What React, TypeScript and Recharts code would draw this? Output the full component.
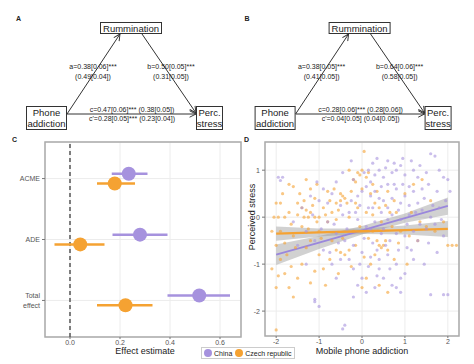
import React from "react"
import {
  ScatterChart,
  ComposedChart,
  Scatter,
  Area,
  Line,
  XAxis,
  YAxis,
  CartesianGrid,
  ErrorBar,
  ReferenceLine,
  ReferenceArea,
} from "recharts"

// colours
const PURPLE = "#a692de"
const ORANGE = "#f5a232"
const FONT = "'Liberation Sans', Arial, sans-serif"

// ---- panel C: mediation estimates ----
const catNames = ["ACME", "ADE", "Total\neffect"]
const catPos = [3, 2, 1]
const chinaEst = [0.235, 0.28, 0.517]
const chinaLo = [0.167, 0.17, 0.39]
const chinaHi = [0.31, 0.39, 0.64]
const czechEst = [0.179, 0.041, 0.222]
const czechLo = [0.108, -0.062, 0.108]
const czechHi = [0.26, 0.138, 0.33]
const effectTicks = [0, 0.2, 0.4, 0.6]

// ---- panel D: scatter + fits ----
const chinaPoints: number[][] = [
  [0.6, 1.2], [0.75, 1.15], [0.8, 1.0], [0.7, 0.95], [0.9, 1.1], [1.0, 0.9], [1.2, 1.0], [1.3, 0.85],
  [1.5, 0.95], [1.6, 1.35], [1.7, 1.3], [1.8, 1.0], [1.9, 0.85], [2.0, 0.8], [1.55, 0.7], [1.4, 0.6],
  [1.2, 0.55], [1.0, 0.45], [0.9, 0.3], [1.1, 0.25], [1.3, 0.3], [0.8, 0.6], [0.6, 0.7], [0.5, 0.85],
  [0.4, 1.0], [0.3, 0.9], [0.2, 0.75], [0.1, 0.65], [0.0, 0.55], [-0.1, 0.45], [0.2, 0.45], [0.4, 0.4],
  [0.6, 0.2], [0.7, 0.05], [0.9, -0.05], [1.1, 0.05], [1.4, 0.15], [1.6, 0.0], [1.8, 0.2], [1.7, -0.15],
  [1.5, -0.25], [1.2, -0.3], [1.0, -0.4], [0.8, -0.35], [0.5, -0.25], [0.3, -0.1], [0.1, -0.2], [-0.1, -0.05],
  [-0.3, 0.1], [-0.5, 0.25], [-0.7, 0.5], [-0.9, 0.6], [-1.0, 0.35], [-1.2, 0.45], [-0.8, -0.1], [-0.6, -0.35],
  [-0.4, -0.5], [-0.2, -0.6], [0.0, -0.75], [0.2, -0.85], [0.4, -0.9], [0.6, -0.8], [0.8, -1.0], [1.0, -1.2],
  [1.2, -0.9], [0.5, -1.3], [0.3, -1.5], [0.0, -1.3], [-0.2, -1.1], [-0.5, -0.9], [-0.7, -1.0], [-0.9, -0.7],
  [-1.1, -0.5], [-1.3, -0.3], [-1.5, -0.6], [-1.1, -1.8], [-1.0, -1.9], [-1.1, -1.75], [-0.4, -2.3], [-0.45, -2.38],
  [0.8, -1.5], [0.9, -1.6], [1.6, -1.65], [1.9, -1.65], [2.0, -1.65], [-1.95, 0.85], [-1.85, 0.85], [-1.9, 0.78],
  [0.1, -1.6], [-0.2, -1.7], [0.4, -1.1], [0.65, -0.5], [1.3, -0.5], [1.9, -0.4], [2.05, 0.55], [0.15, 1.0],
  [0.05, 0.95], [-0.2, 0.8], [-0.6, 0.75], [-0.8, 0.3], [0.45, 0.1], [0.25, 0.2], [-0.35, -0.25], [1.15, -0.7],
  [0.95, 0.7], [1.75, 0.55], [-1.4, 0.2], [-1.6, -0.1], [-1.3, -1.0], [0.35, 1.25], [0.55, -0.6], [1.45, -1.0],
  [-0.05, -1.0], [0.3, 0.55], [0.5, 0.35], [0.7, 0.4], [0.85, 0.15], [1.05, -0.15], [1.25, 0.1], [1.45, 0.4],
  [1.65, 0.25], [1.85, -0.05], [1.95, 0.35], [0.15, 0.2], [-0.15, 0.1], [-0.25, 0.35], [-0.45, 0.05], [-0.65, -0.15],
  [0.05, -0.45], [0.25, -0.55], [0.45, -0.35], [0.65, -1.1], [0.85, -0.7], [1.05, -0.65], [1.35, -0.15], [1.55, -0.55],
  [1.75, -0.75], [0.35, -1.25], [0.15, -1.05], [-0.1, -1.45], [-0.3, -0.9], [-0.55, -0.55], [-0.75, -0.75], [-0.95, -0.25],
  [-1.15, 0.05], [-1.05, 0.75], [-0.45, 0.95], [-0.25, 1.2], [0.25, 1.15], [0.55, 1.05], [0.95, 1.25], [1.15, 1.2],
  [1.35, 1.1], [0.45, 0.65], [0.75, 0.7], [1.1, 0.65], [0.2, -0.25], [0.6, -0.05], [-0.05, 0.25], [0.35, -0.7],
  [0.9, -1.3], [0.7, -1.45], [-0.6, -1.3],
]
const czechPoints: number[][] = [
  [-2.0, -2.4], [-2.0, 0.3], [-1.9, 0.3], [-1.95, 0.0], [-1.8, 0.0], [-1.7, 0.1], [-2.1, -0.3], [-2.0, -0.6],
  [-1.9, -0.9], [-2.1, -1.1], [-1.8, -1.2], [-1.7, -1.5], [-1.6, -1.7], [-2.0, -1.5], [-1.5, -1.3], [-1.4, -1.0],
  [-1.5, 0.3], [-1.4, 0.2], [-1.3, 0.15], [-1.2, 0.1], [-1.1, 0.0], [-1.25, 0.0], [-1.35, 0.0], [-1.0, 0.0],
  [-1.2, 0.6], [-1.6, 0.65], [-1.7, 0.7], [-1.3, 0.8], [-1.1, 0.4], [-0.9, 0.2], [-0.8, -0.1], [-1.0, -0.3],
  [-1.2, -0.5], [-1.0, -0.8], [-0.9, -1.1], [-1.2, -1.4], [-0.6, -0.7], [-0.5, -0.75], [-0.4, -0.8], [-0.3, -0.7],
  [-0.5, 0.5], [-0.45, 0.45], [-0.4, 0.4], [-0.5, 0.35], [-0.6, 0.3], [-0.7, 0.1], [-0.3, 0.0], [-0.2, -0.3],
  [-0.1, 0.2], [0.0, 0.6], [0.1, 0.85], [0.0, 1.0], [-0.1, 0.95], [0.05, 1.4], [0.2, 0.5], [0.3, 0.3],
  [0.35, -0.5], [0.4, -0.6], [0.5, -0.6], [0.45, -0.65], [0.55, -0.5], [0.3, -0.8], [0.2, -1.0], [0.1, -1.3],
  [0.0, -1.5], [0.4, -1.45], [0.6, -1.6], [0.7, -0.2], [0.8, 0.1], [0.9, -0.3], [1.0, 0.5], [1.2, 0.7],
  [1.4, 0.8], [1.1, -0.4], [1.3, -0.5], [1.5, -0.2], [1.7, -0.3], [2.0, -0.6], [2.1, -0.6], [2.2, -0.6],
  [1.9, -0.1], [0.6, 0.55], [0.4, 0.2], [-0.2, 0.8], [-0.3, 1.0], [-0.8, 0.55], [-1.4, -0.2], [-1.6, -0.4],
  [-1.75, -0.8], [-0.7, -0.5], [-0.05, -0.2], [0.15, -0.45], [0.25, 0.05], [-0.85, -1.45], [-0.55, -1.2], [0.75, -0.9],
  [1.6, 0.35], [-1.85, 0.5], [-1.55, -0.65], [-0.15, 0.3], [0.65, 0.1], [-1.05, 0.7], [-0.25, -1.05], [1.05, -1.0],
  [-1.9, -0.3], [-1.8, -0.55], [-1.65, -0.15], [-1.5, 0.05], [-1.45, 0.5], [-1.35, 0.35], [-1.15, 0.25], [-1.05, -0.1],
  [-0.95, -0.45], [-0.85, 0.05], [-0.75, 0.35], [-0.65, 0.6], [-0.55, 0.15], [-0.35, 0.3], [-0.25, 0.55], [-0.15, 0.75],
  [-0.05, 0.9], [0.15, 0.95], [0.25, 0.7], [0.35, 0.55], [0.45, -0.1], [0.55, 0.25], [0.75, 0.35], [0.85, -0.55],
  [1.15, 0.1], [1.35, -0.1], [-1.95, -1.25], [-1.65, -1.05], [-1.3, -0.65], [-1.1, -1.15], [-0.75, -0.9], [-0.45, -0.45],
  [-0.15, -0.6], [0.05, -0.85], [0.25, -0.3], [0.6, -0.7], [-2.05, 0.0], [-1.25, -0.25], [-0.6, -0.05], [0.1, 0.1],
]
const fitX = [-2, -1, 0, 1, 2]
const chinaFit = [-0.8, -0.54, -0.28, -0.02, 0.24]
const chinaBandLo = [-1.02, -0.68, -0.37, -0.12, 0.05]
const chinaBandHi = [-0.58, -0.4, -0.19, 0.08, 0.42]
const czechFit = [-0.35, -0.325, -0.3, -0.275, -0.25]
const czechBandLo = [-0.5, -0.41, -0.36, -0.37, -0.42]
const czechBandHi = [-0.2, -0.24, -0.24, -0.18, -0.08]
const stressTicks = [-2, -1, 0, 1]
const addictionTicks = [-2, -1, 0, 1, 2]

const rowsC = (est: number[], lo: number[], hi: number[], off: number) =>
  est.map((e, i) => ({ x: e, y: catPos[i] + off, err: [e - lo[i], hi[i] - e] }))
const chinaC = rowsC(chinaEst, chinaLo, chinaHi, 0.08)
const czechC = rowsC(czechEst, czechLo, czechHi, -0.08)

const toPts = (pts: number[][]) => pts.map(([x, y]) => ({ x, y }))
const fitRows = (fit: number[], lo: number[], hi: number[]) =>
  fitX.map((x, i) => ({ x, y: fit[i], band: [lo[i], hi[i]] }))
const chinaD = fitRows(chinaFit, chinaBandLo, chinaBandHi)
const czechD = fitRows(czechFit, czechBandLo, czechBandHi)

const tickStyle = { fill: "#555", fontSize: 7, fontFamily: FONT }

const CatTick = (props: any) => {
  const { x, y, payload } = props
  const idx = catPos.indexOf(payload.value)
  const lines = (catNames[idx] || "").split("\n")
  return (
    <text x={x} y={y} textAnchor="end" fill="#555" fontSize={7} fontFamily={FONT}>
      {lines.map((l, i) => (
        <tspan key={i} x={x} dy={i === 0 ? (lines.length === 1 ? 2.5 : -2.5) : 10}>
          {l}
        </tspan>
      ))}
    </text>
  )
}

const bigDot = (color: string) => (p: any) => <circle cx={p.cx} cy={p.cy} r={7} fill={color} />
const smallDot = (color: string) => (p: any) => (
  <circle cx={p.cx} cy={p.cy} r={1.6} fill={color} fillOpacity={0.6} />
)

// one mediation triangle
function Diagram({ dx, label, a, b, c }: { dx: number; label: string; a: string[]; b: string[]; c: string[] }) {
  const t = { fontFamily: FONT, fill: "#222", textAnchor: "middle" as const }
  return (
    <g transform={`translate(${dx},0)`}>
      <text x={16} y={21} fontSize={7} fontWeight="bold" fontFamily={FONT} fill="#222">{label}</text>
      <rect x={100.5} y={22.5} width={61} height={11} fill="#fff" stroke="#333" />
      <text x={131} y={31.5} fontSize={9.5} {...t}>Rummination</text>
      <rect x={26.5} y={106.5} width={40} height={23} fill="#fff" stroke="#333" />
      <text x={46.5} y={116} fontSize={9.5} {...t}>Phone</text>
      <text x={46.5} y={127} fontSize={9.5} {...t}>addiction</text>
      <rect x={196.5} y={106.5} width={26} height={23} fill="#fff" stroke="#333" />
      <text x={209.5} y={116} fontSize={9.5} {...t}>Perc.</text>
      <text x={209.5} y={127} fontSize={9.5} {...t}>stress</text>
      <line x1={67} y1={114} x2={120} y2={34} stroke="#333" markerEnd="url(#arr)" />
      <line x1={142} y1={34} x2={196} y2={113} stroke="#333" markerEnd="url(#arr)" />
      <line x1={67} y1={114} x2={196} y2={114} stroke="#333" markerEnd="url(#arr)" />
      <text x={93} y={69} fontSize={7} {...t}>{a[0]}</text>
      <text x={93} y={79} fontSize={7} {...t}>{a[1]}</text>
      <text x={171} y={69} fontSize={7} {...t}>{b[0]}</text>
      <text x={171} y={79} fontSize={7} {...t}>{b[1]}</text>
      <text x={132} y={111.5} fontSize={7} {...t}>{c[0]}</text>
      <text x={132} y={121} fontSize={7} {...t}>{c[1]}</text>
    </g>
  )
}

export default function App() {
  return (
    <div style={{ position: "absolute", left: 0, top: 0, width: 474, height: 364, background: "#fff", fontFamily: FONT, overflow: "hidden" }}>
      <svg width={474} height={135} style={{ position: "absolute", left: 0, top: 0 }}>
        <defs>
          <marker id="arr" viewBox="0 0 10 10" refX={9} refY={5} markerWidth={8} markerHeight={8} orient="auto">
            <path d="M1,1 L9,5 L1,9" fill="none" stroke="#333" strokeWidth={1.2} />
          </marker>
        </defs>
        <Diagram
          dx={0}
          label="A"
          a={["a=0.38[0.06]***", "(0.49[0.04])"]}
          b={["b=0.50[0.05]***", "(0.31[0.05])"]}
          c={["c=0.47[0.06]*** (0.38[0.05])", "c'=0.28[0.05]*** (0.23[0.04])"]}
        />
        <Diagram
          dx={228.6}
          label="B"
          a={["a=0.38[0.05]***", "(0.41[0.05])"]}
          b={["b=0.64[0.06]***", "(0.58[0.05])"]}
          c={["c=0.28[0.06]*** (0.28[0.06])", "c'=0.04[0.05] (0.04[0.05])"]}
        />
      </svg>

      <div style={{ position: "absolute", left: 12, top: 136, fontSize: 7, fontWeight: "bold", color: "#222" }}>C</div>
      <div style={{ position: "absolute", left: 244, top: 136, fontSize: 7, fontWeight: "bold", color: "#222" }}>D</div>

      {/* panel C */}
      <div style={{ position: "absolute", left: 0, top: 135 }}>
        <ScatterChart width={245} height={229} margin={{ top: 7, right: 4, bottom: 0, left: 0 }}>
          <CartesianGrid stroke="#ececec" />
          <XAxis
            type="number"
            dataKey="x"
            domain={[-0.1, 0.684]}
            ticks={effectTicks}
            tickFormatter={(v: number) => v.toFixed(1)}
            height={27}
            axisLine={false}
            tickLine={{ stroke: "#777" }}
            tickSize={2}
            tickMargin={1}
            tick={tickStyle}
            allowDataOverflow
          />
          <YAxis
            type="number"
            dataKey="y"
            domain={[0.4, 3.6]}
            ticks={catPos}
            width={45}
            axisLine={false}
            tickLine={{ stroke: "#777" }}
            tickSize={3}
            tick={<CatTick />}
            allowDataOverflow
          />
          <ReferenceArea x1={-0.1} x2={0.684} y1={0.4} y2={3.6} fill="none" stroke="#aaa" strokeWidth={1.5} />
          <ReferenceLine x={0} stroke="#555" strokeWidth={1.5} strokeDasharray="4 3" />
          <Scatter data={chinaC} dataKey="y" shape={bigDot(PURPLE)} isAnimationActive={false}>
            <ErrorBar dataKey="err" direction="x" width={0} stroke={PURPLE} strokeWidth={2.5} />
          </Scatter>
          <Scatter data={czechC} dataKey="y" shape={bigDot(ORANGE)} isAnimationActive={false}>
            <ErrorBar dataKey="err" direction="x" width={0} stroke={ORANGE} strokeWidth={2.5} />
          </Scatter>
        </ScatterChart>
      </div>

      {/* panel D */}
      <div style={{ position: "absolute", left: 237, top: 135 }}>
        <ComposedChart width={237} height={229} margin={{ top: 7, right: 15, bottom: 0, left: 0 }}>
          <CartesianGrid stroke="#ececec" />
          <XAxis
            type="number"
            dataKey="x"
            domain={[-2.26, 2.26]}
            ticks={addictionTicks}
            height={28}
            axisLine={false}
            tickLine={{ stroke: "#777" }}
            tickSize={2}
            tickMargin={1}
            tick={tickStyle}
            allowDataOverflow
          />
          <YAxis
            type="number"
            domain={[-2.53, 1.6]}
            ticks={stressTicks}
            width={28}
            axisLine={false}
            tickLine={{ stroke: "#777" }}
            tickSize={3}
            tick={tickStyle}
            allowDataOverflow
          />
          <Scatter data={toPts(czechPoints)} dataKey="y" shape={smallDot(ORANGE)} isAnimationActive={false} />
          <Scatter data={toPts(chinaPoints)} dataKey="y" shape={smallDot(PURPLE)} isAnimationActive={false} />
          <Area data={chinaD} dataKey="band" type="linear" fill="#999" fillOpacity={0.45} stroke="none" isAnimationActive={false} />
          <Area data={czechD} dataKey="band" type="linear" fill="#999" fillOpacity={0.45} stroke="none" isAnimationActive={false} />
          <Line data={chinaD} dataKey="y" type="linear" stroke="#9a87dc" strokeWidth={1.8} dot={false} isAnimationActive={false} />
          <Line data={czechD} dataKey="y" type="linear" stroke={ORANGE} strokeWidth={2.4} dot={false} isAnimationActive={false} />
          <ReferenceArea x1={-2.26} x2={2.26} y1={-2.53} y2={1.6} fill="none" stroke="#aaa" strokeWidth={1.5} />
        </ComposedChart>
      </div>

      {/* axis titles */}
      <div style={{ position: "absolute", left: 70, width: 150, top: 346, lineHeight: "10px", textAlign: "center", fontSize: 9, color: "#222" }}>
        Effect estimate
      </div>
      <div style={{ position: "absolute", left: 287, width: 150, top: 346, lineHeight: "10px", textAlign: "center", fontSize: 9, color: "#222" }}>
        Mobile phone addiction
      </div>
      <div
        style={{
          position: "absolute",
          left: 252,
          top: 217,
          fontSize: 9,
          color: "#222",
          whiteSpace: "nowrap",
          transform: "translate(-50%,-50%) rotate(-90deg)",
        }}
      >
        Perceived stress
      </div>

      {/* legend */}
      <div
        style={{
          position: "absolute",
          left: 201,
          top: 347,
          width: 94,
          height: 12,
          boxSizing: "border-box",
          border: "1px solid #ccc",
          display: "flex",
          alignItems: "center",
          fontSize: 7,
          color: "#222",
        }}
      >
        <span style={{ width: 8, height: 8, borderRadius: 4, background: PURPLE, marginLeft: 2, marginRight: 2 }} />
        <span>China</span>
        <span style={{ width: 8, height: 8, borderRadius: 4, background: ORANGE, marginLeft: 3, marginRight: 2 }} />
        <span>Czech republic</span>
      </div>
    </div>
  )
}
